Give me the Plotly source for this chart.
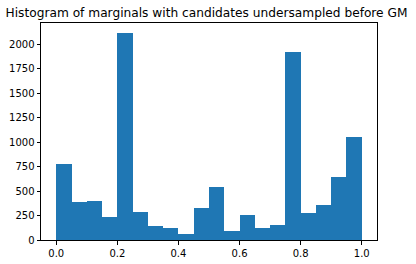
import numpy as np
import plotly.graph_objects as go

bin_edges = [0.0, 0.05, 0.1, 0.15, 0.2, 0.25, 0.3, 0.35, 0.4, 0.45, 0.5,
             0.55, 0.6, 0.65, 0.7, 0.75, 0.8, 0.85, 0.9, 0.95, 1.0]
counts = [775, 388, 398, 235, 2110, 286, 143, 120, 58, 327,
          544, 92, 255, 122, 153, 1918, 279, 360, 646, 1051]
x_ticks = [0.0, 0.2, 0.4, 0.6, 0.8, 1.0]
y_ticks = [0, 250, 500, 750, 1000, 1250, 1500, 1750, 2000]
title = "Histogram of marginals with candidates undersampled before GM"

edges = np.array(bin_edges)
centers = (edges[:-1] + edges[1:]) / 2
widths = np.diff(edges)

fig = go.Figure(go.Bar(
    x=centers, y=counts, width=widths,
    marker=dict(color="#1f77b4", line=dict(width=0)),
))

font = "DejaVu Sans, sans-serif"
fig.update_layout(
    template="none",
    width=416, height=264,
    margin=dict(l=41, r=39, t=23, b=24, pad=0),
    paper_bgcolor="white", plot_bgcolor="white",
    showlegend=False,
    bargap=0,
    title=dict(text=title, x=206.5 / 416, xanchor="center", xref="container",
               y=1 - 12.5 / 264, yref="container", yanchor="middle",
               font=dict(family=font, size=12.2, color="black")),
    font=dict(family=font, size=10, color="black"),
)
fig.update_xaxes(
    range=[-0.05, 1.05], tickvals=x_ticks, tickformat=".1f",
    showgrid=False, zeroline=False, automargin=False,
    showline=True, linecolor="black", linewidth=1, mirror=True,
    ticks="outside", ticklen=3.5, tickcolor="black", tickwidth=1,
    tickfont=dict(family=font, size=10, color="black"),
)
fig.update_yaxes(
    range=[0, max(counts) * 1.05], tickvals=y_ticks,
    showgrid=False, zeroline=False, automargin=False,
    showline=True, linecolor="black", linewidth=1, mirror=True,
    ticks="outside", ticklen=3.5, tickcolor="black", tickwidth=1,
    tickfont=dict(family=font, size=10, color="black"),
)

fig.write_html("out.html")
